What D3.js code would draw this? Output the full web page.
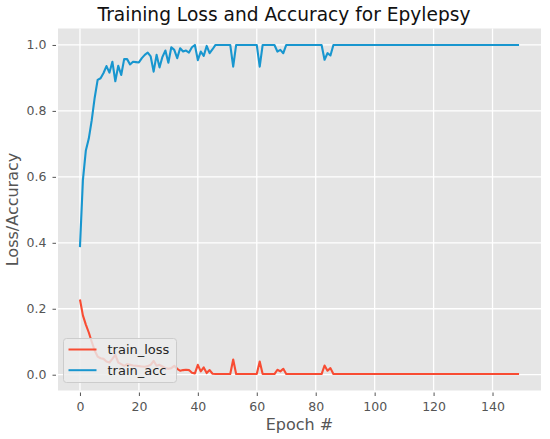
<!DOCTYPE html>
<html>
<head>
<meta charset="utf-8">
<script src="https://cdn.jsdelivr.net/npm/d3@7"></script>
<style>
  body { margin: 0; background: #fff; }
  text { font-family: "DejaVu Sans", sans-serif; }
</style>
</head>
<body>
<div class="svg"></div>
<script>
var svgWidth = 550;
var svgHeight = 439;

var margin = { top: 28.5, right: 9, bottom: 48.5, left: 58 };
var width = svgWidth - margin.left - margin.right;
var height = svgHeight - margin.top - margin.bottom;

// values, one per epoch (0..149)
var trainLoss = [
  0.228, 0.18, 0.152, 0.128, 0.1, 0.073, 0.055, 0.05, 0.048, 0.04,
  0.037, 0.048, 0.06, 0.037, 0.032, 0.027, 0.032, 0.03, 0.028, 0.027,
  0.026, 0.025, 0.024, 0.026, 0.03, 0.042, 0.027, 0.03, 0.025, 0.02,
  0.018, 0.02, 0.027, 0.018, 0.012, 0.014, 0.015, 0.014, 0.006, 0.004,
  0.03, 0.01, 0.022, 0.005, 0.014, 0.003, 0.002, 0.002, 0.002, 0.002,
  0.002, 0.002, 0.046, 0.002, 0.002, 0.002, 0.002, 0.002, 0.002, 0.002,
  0.002, 0.04, 0.002, 0.002, 0.002, 0.002, 0.002, 0.015, 0.01, 0.018,
  0.002, 0.002, 0.002, 0.002, 0.002, 0.002, 0.002, 0.002, 0.002, 0.002,
  0.002, 0.002, 0.002, 0.028, 0.012, 0.02, 0.002, 0.002, 0.002, 0.002,
  0.002, 0.002, 0.002, 0.002, 0.002, 0.002, 0.002, 0.002, 0.002, 0.002,
  0.002, 0.002, 0.002, 0.002, 0.002, 0.002, 0.002, 0.002, 0.002, 0.002,
  0.002, 0.002, 0.002, 0.002, 0.002, 0.002, 0.002, 0.002, 0.002, 0.002,
  0.002, 0.002, 0.002, 0.002, 0.002, 0.002, 0.002, 0.002, 0.002, 0.002,
  0.002, 0.002, 0.002, 0.002, 0.002, 0.002, 0.002, 0.002, 0.002, 0.002,
  0.002, 0.002, 0.002, 0.002, 0.002, 0.002, 0.002, 0.002, 0.002, 0.002
];

var trainAcc = [
  0.387, 0.59, 0.68, 0.716, 0.772, 0.84, 0.894, 0.899, 0.915, 0.936,
  0.916, 0.949, 0.89, 0.937, 0.909, 0.957, 0.957, 0.941, 0.949, 0.948,
  0.947, 0.96, 0.97, 0.977, 0.965, 0.919, 0.97, 0.932, 0.964, 0.983,
  0.946, 0.993, 0.985, 0.96, 0.99, 0.98, 0.983, 0.977, 0.993, 1.0,
  0.954, 0.98, 0.967, 0.997, 0.975, 0.987, 1.0, 1.0, 1.0, 1.0,
  1.0, 1.0, 0.934, 1.0, 1.0, 1.0, 1.0, 1.0, 1.0, 1.0,
  1.0, 0.934, 1.0, 1.0, 1.0, 1.0, 1.0, 0.98, 0.985, 0.975,
  1.0, 1.0, 1.0, 1.0, 1.0, 1.0, 1.0, 1.0, 1.0, 1.0,
  1.0, 1.0, 1.0, 0.955, 0.975, 0.968, 1.0, 1.0, 1.0, 1.0,
  1.0, 1.0, 1.0, 1.0, 1.0, 1.0, 1.0, 1.0, 1.0, 1.0,
  1.0, 1.0, 1.0, 1.0, 1.0, 1.0, 1.0, 1.0, 1.0, 1.0,
  1.0, 1.0, 1.0, 1.0, 1.0, 1.0, 1.0, 1.0, 1.0, 1.0,
  1.0, 1.0, 1.0, 1.0, 1.0, 1.0, 1.0, 1.0, 1.0, 1.0,
  1.0, 1.0, 1.0, 1.0, 1.0, 1.0, 1.0, 1.0, 1.0, 1.0,
  1.0, 1.0, 1.0, 1.0, 1.0, 1.0, 1.0, 1.0, 1.0, 1.0
];

var xTicks = [0, 20, 40, 60, 80, 100, 120, 140];
var yTicks = [0.0, 0.2, 0.4, 0.6, 0.8, 1.0];

var seriesNames = ["train_loss", "train_acc"];
var seriesColors = ["#f84c33", "#1896cf"];

var svg = d3.selectAll(".svg")
  .append("svg")
  .attr("width", svgWidth)
  .attr("height", svgHeight);

// matplotlib style 5% padding on both axes
var xPad = (trainAcc.length - 1) * 0.05;
var lo = d3.min(trainLoss), hi = d3.max(trainAcc);
var yPad = (hi - lo) * 0.05;

var xScale = d3.scaleLinear()
  .domain([-xPad, trainAcc.length - 1 + xPad])
  .range([0, width]);

var yScale = d3.scaleLinear()
  .domain([lo - yPad, hi + yPad])
  .range([height, 0]);

var plot = svg.append("g")
  .attr("transform", "translate(" + margin.left + "," + margin.top + ")");

plot.append("rect")
  .attr("width", width)
  .attr("height", height)
  .attr("fill", "#e5e5e5");

// grid lines
plot.append("g")
  .selectAll("line")
  .data(xTicks)
  .enter()
  .append("line")
  .attr("x1", function(d) { return xScale(d); })
  .attr("x2", function(d) { return xScale(d); })
  .attr("y1", 0)
  .attr("y2", height)
  .attr("stroke", "#fff")
  .attr("stroke-width", 1.3);

plot.append("g")
  .selectAll("line")
  .data(yTicks)
  .enter()
  .append("line")
  .attr("x1", 0)
  .attr("x2", width)
  .attr("y1", function(d) { return yScale(d); })
  .attr("y2", function(d) { return yScale(d); })
  .attr("stroke", "#fff")
  .attr("stroke-width", 1.3);

// axes (ticks + labels only, no domain line)
var xAxis = plot.append("g")
  .attr("transform", "translate(0," + (height + 2) + ")")
  .call(d3.axisBottom(xScale).tickValues(xTicks).tickSize(3.5).tickPadding(6)
    .tickFormat(d3.format("d")));

var yAxis = plot.append("g")
  .attr("transform", "translate(-2,0)")
  .call(d3.axisLeft(yScale).tickValues(yTicks).tickSize(3.5).tickPadding(6)
    .tickFormat(d3.format(".1f")));

[xAxis, yAxis].forEach(function(ax) {
  ax.select(".domain").remove();
  ax.selectAll("line").attr("stroke", "#555").attr("stroke-width", 1);
  ax.selectAll("text")
    .attr("fill", "#555")
    .attr("font-size", 12.5)
    .style("font-family", "DejaVu Sans, sans-serif");
});

// lines
var line = d3.line()
  .x(function(d, i) { return xScale(i); })
  .y(function(d) { return yScale(d); });

plot.append("path")
  .datum(trainLoss)
  .attr("d", line)
  .attr("fill", "none")
  .attr("stroke", seriesColors[0])
  .attr("stroke-width", 2.1)
  .attr("stroke-linejoin", "round");

plot.append("path")
  .datum(trainAcc)
  .attr("d", line)
  .attr("fill", "none")
  .attr("stroke", seriesColors[1])
  .attr("stroke-width", 2.1)
  .attr("stroke-linejoin", "round");

// legend, lower left
var legend = svg.append("g")
  .attr("transform", "translate(63.5,338.5)");

legend.append("rect")
  .attr("width", 113)
  .attr("height", 44)
  .attr("rx", 3)
  .attr("ry", 3)
  .attr("fill", "#ececec")
  .attr("fill-opacity", 0.82)
  .attr("stroke", "#cccccc")
  .attr("stroke-width", 1);

var items = legend.selectAll(".item")
  .data(seriesNames)
  .enter()
  .append("g")
  .attr("class", "item")
  .attr("transform", function(d, i) { return "translate(0," + (11 + i * 20.7) + ")"; });

items.append("line")
  .attr("x1", 5)
  .attr("x2", 33)
  .attr("stroke", function(d, i) { return seriesColors[i]; })
  .attr("stroke-width", 2);

items.append("text")
  .text(function(d) { return d; })
  .attr("x", 44)
  .attr("dy", "0.35em")
  .attr("font-size", 13)
  .attr("fill", "#262626");

// titles
svg.append("text")
  .text("Training Loss and Accuracy for Epylepsy")
  .attr("x", 284)
  .attr("y", 21)
  .attr("text-anchor", "middle")
  .attr("font-size", 18.6)
  .attr("fill", "#111");

svg.append("text")
  .text("Epoch #")
  .attr("x", margin.left + width / 2)
  .attr("y", 430)
  .attr("text-anchor", "middle")
  .attr("font-size", 16)
  .attr("fill", "#555");

svg.append("text")
  .text("Loss/Accuracy")
  .attr("transform", "translate(18," + (margin.top + height / 2) + ") rotate(-90)")
  .attr("text-anchor", "middle")
  .attr("font-size", 16)
  .attr("fill", "#555");
</script>
</body>
</html>
